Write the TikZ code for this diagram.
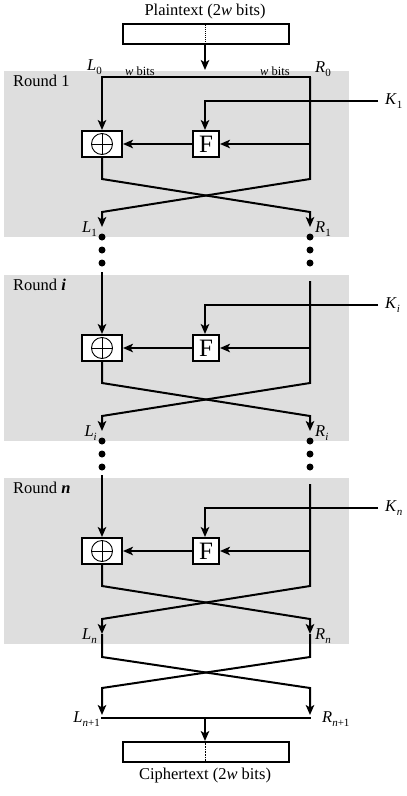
\documentclass[tikz,border=0pt]{standalone}
\usepackage{fontspec}
\setmainfont{Liberation Serif}
\usetikzlibrary{arrows.meta}
\pgfdeclarelayer{bg}
\pgfsetlayers{bg,main}
\newcommand\sbs[1]{\raisebox{-0.28em}{\fontsize{11}{11}\selectfont #1}}
% #1 centre y, #2 suffix, #3 key subscript, #4 round name, #5 L/R subscript, #6 left-top offset
\newcommand\feistelround[6]{%
  \begin{pgfonlayer}{bg}
  \fill[band] (4,#1-73) rectangle (349,#1+93);
  \end{pgfonlayer}
  \node[lbl, anchor=west] (rl#2) at (13,#1-63) {Round #4};
  \node[blk, minimum width=40pt, minimum height=26pt] (x#2) at (102,#1) {};
  \draw[line width=0.9pt] (x#2.center) circle (10.5);
  \draw[line width=0.9pt] (x#2.center) ++(-10.5,0) -- ++(21,0);
  \draw[line width=0.9pt] (x#2.center) ++(0,-10.5) -- ++(0,21);
  \node[blk, minimum width=26pt, minimum height=26pt, font=\fontsize{25}{25}\selectfont] (f#2) at (206,#1) {F};
  \coordinate (lt#2) at (102,#1+#6);
  \coordinate (rt#2) at (310,#1-67);
  \coordinate (rj#2) at (310,#1);
  \coordinate (k#2) at (378,#1-43);
  \coordinate (ls#2) at (102,#1+35);
  \coordinate (rs#2) at (310,#1+35);
  \coordinate (le#2) at (102,#1+68);
  \coordinate (re#2) at (310,#1+68);
  \coordinate (lo#2) at (102,#1+83);
  \coordinate (ro#2) at (310,#1+83);
  \node[lbl, anchor=west] (kl#2) at (385,#1-43) {\textit{K}\sbs{#3}};
  \node[lbl, anchor=east] (ll#2) at (97,#1+85) {\textit{L}\sbs{#5}};
  \node[lbl, anchor=west] (rlb#2) at (315,#1+85) {\textit{R}\sbs{#5}};
  \draw[arr] (k#2) -| ([xshift=-1pt]f#2.north);
  \draw[arr] (rj#2) -- (f#2.east);
  \draw[arr] (f#2.west) -- (x#2.east);
  \draw[arr] (lt#2) -- (x#2.north);
  \draw[arr] (x#2.south) -- (ls#2) -- (re#2) -- (ro#2);
  \draw[arr] (rt#2) -- (rs#2) -- (le#2) -- (lo#2);
}
\begin{document}
\begin{tikzpicture}[x=1pt,y=-1pt,
  wire/.style={line width=2pt},
  arr/.style={wire, -{Stealth[length=10pt,width=8.5pt,inset=2.5pt]}},
  band/.style={fill=black!13, draw=none},
  blk/.style={draw, line width=2pt, fill=white, inner sep=0pt},
  bar/.style={draw, line width=2pt, fill=white, minimum width=166pt, minimum height=20pt, inner sep=0pt},
  lbl/.style={font=\fontsize{16.5}{18}\selectfont, inner sep=0pt},
  small/.style={font=\fontsize{12.5}{14}\selectfont, inner sep=0pt},
  dot/.style={circle, fill=black, minimum size=7pt, inner sep=0pt}]
\useasboundingbox (0,0) rectangle (407,796);

% top
\node[lbl] (ptxt) at (205,12) {Plaintext (2\textit{w} bits)};
\node[bar] (pbox) at (206,34) {};
\draw[line width=1pt, densely dotted] ([xshift=-0.5pt]pbox.north) -- ([xshift=-0.5pt]pbox.south);
\coordinate (pin) at (205,70);
\draw[arr] ([xshift=-1pt]pbox.south) -- (pin);

% rounds
\feistelround{144}{1}{1}{1}{1}{-67}
\feistelround{348}{i}{\textit{i}}{\textbf{\textit{i}}}{\textit{i}}{-76}
\feistelround{551}{n}{\textit{n}}{\textbf{\textit{n}}}{\textit{n}}{-76}

% input split line
\draw[wire, line cap=rect] (lt1) -- (rt1);
\node[lbl, anchor=east] (l0) at (102,67) {\textit{L}\sbs{0}};
\node[lbl, anchor=west] (r0) at (315,69) {\textit{R}\sbs{0}};
\node[small] (wl) at (140,71) {\textit{w} bits};
\node[small] (wr) at (275,71) {\textit{w} bits};

% dots
\foreach \c/\s in {144/1,348/i}{
  \node[dot] (dl\s a) at (102,\c+93) {};
  \node[dot] (dl\s b) at (102,\c+106) {};
  \node[dot] (dl\s c) at (102,\c+119) {};
  \node[dot] (dr\s a) at (310,\c+93) {};
  \node[dot] (dr\s b) at (310,\c+106) {};
  \node[dot] (dr\s c) at (310,\c+119) {};
}

% final swap
\coordinate (fl) at (102,657);
\coordinate (fr) at (310,657);
\coordinate (gl) at (102,688);
\coordinate (gr) at (310,688);
\coordinate (hl) at (102,715);
\coordinate (hr) at (310,715);
\coordinate (ol) at (102,718);
\coordinate (orr) at (310,718);
\coordinate (om) at (205,718);
\draw[arr] (lon) -- (fl) -- (gr) -- (hr);
\draw[arr] (ron) -- (fr) -- (gl) -- (hl);
\draw[wire, line cap=rect] (ol) -- (orr);
\node[lbl, anchor=east] (ln1) at (100,719) {\textit{L}\sbs{\textit{n}+1}};
\node[lbl, anchor=west] (rn1) at (322,719) {\textit{R}\sbs{\textit{n}+1}};
\node[bar] (cbox) at (206,752) {};
\draw[line width=0.6pt, densely dotted] ([xshift=-1pt]cbox.north) -- ([xshift=-1pt]cbox.south);
\draw[arr] (om) -- ([xshift=-1pt]cbox.north);
\node[lbl] (ctxt) at (205,776) {Ciphertext (2\textit{w} bits)};
\end{tikzpicture}
\end{document}
